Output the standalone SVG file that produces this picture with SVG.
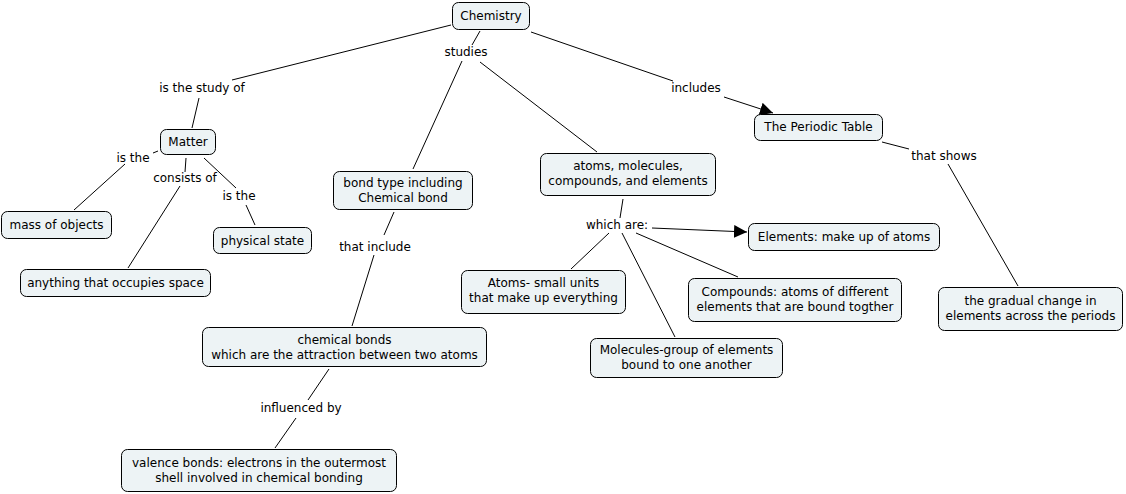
<svg xmlns="http://www.w3.org/2000/svg" width="1126" height="494" viewBox="0 0 1126 494">
<defs>
<style>
.n rect{fill:#edf3f5;stroke:#000;stroke-width:1}
text{font-family:"DejaVu Sans",Verdana,sans-serif;font-size:12px;fill:#000;text-anchor:middle}
.c line{stroke:#000;stroke-width:1}
</style>
<marker id="ah" viewBox="0 0 10 10" refX="10" refY="5" markerWidth="13" markerHeight="13" markerUnits="userSpaceOnUse" orient="auto"><path d="M0,0 L10,5 L0,10 z" fill="#000"/></marker>
</defs>
<rect width="1126" height="494" fill="#fff"/>
<g class="c" id="connectors">
<line x1="480" y1="31" x2="472" y2="45"/>
<line x1="462" y1="61" x2="413" y2="169"/>
<line x1="480" y1="62" x2="597" y2="152"/>
<line x1="451" y1="25" x2="232" y2="80"/>
<line x1="199" y1="98" x2="192" y2="128"/>
<line x1="531" y1="32" x2="673" y2="81"/>
<line x1="724" y1="97" x2="773" y2="113" marker-end="url(#ah)"/>
<line x1="882" y1="142" x2="909" y2="149"/>
<line x1="948" y1="164" x2="1018" y2="286"/>
<line x1="158" y1="151" x2="153" y2="153"/>
<line x1="125" y1="164" x2="74" y2="210"/>
<line x1="186" y1="158" x2="185" y2="172"/>
<line x1="180" y1="186" x2="128" y2="268"/>
<line x1="204" y1="158" x2="236" y2="188"/>
<line x1="246" y1="205" x2="255" y2="225"/>
<line x1="394" y1="212" x2="384" y2="235"/>
<line x1="374" y1="255" x2="352" y2="326"/>
<line x1="329" y1="369" x2="308" y2="400"/>
<line x1="296" y1="418" x2="275" y2="448"/>
<line x1="623" y1="199" x2="620" y2="218"/>
<line x1="652" y1="228" x2="747" y2="232" marker-end="url(#ah)"/>
<line x1="609" y1="233" x2="571" y2="269"/>
<line x1="622" y1="233" x2="675" y2="337"/>
<line x1="636" y1="233" x2="738" y2="277"/>
</g>
<g id="labels">
<text x="466" y="56">studies</text>
<text x="202" y="92">is the study of</text>
<text x="696" y="92">includes</text>
<text x="133" y="162">is the</text>
<text x="185" y="182">consists of</text>
<text x="239" y="200">is the</text>
<text x="375" y="251">that include</text>
<text x="301" y="412">influenced by</text>
<text x="617" y="229">which are:</text>
<text x="944" y="160">that shows</text>
</g>
<g class="n" id="chemistry"><rect x="452.5" y="2.5" width="77" height="27" rx="6"/><text x="491" y="20">Chemistry</text></g>
<g class="n" id="matter"><rect x="160.5" y="129.5" width="55" height="25" rx="6"/><text x="188" y="146">Matter</text></g>
<g class="n" id="mass"><rect x="1.5" y="211.5" width="110" height="27" rx="6"/><text x="56.5" y="229">mass of objects</text></g>
<g class="n" id="physical"><rect x="213.5" y="227.5" width="98" height="26" rx="6"/><text x="262.5" y="245">physical state</text></g>
<g class="n" id="anything"><rect x="20.5" y="269.5" width="190" height="27" rx="6"/><text x="115.5" y="287">anything that occupies space</text></g>
<g class="n" id="bondtype"><rect x="333.5" y="171.5" width="139" height="38" rx="6"/><text x="403" y="187">bond type including</text><text x="403" y="202">Chemical bond</text></g>
<g class="n" id="chembonds"><rect x="202.5" y="327.5" width="284" height="39" rx="6"/><text x="344.5" y="344">chemical bonds</text><text x="344.5" y="359">which are the attraction between two atoms</text></g>
<g class="n" id="valence"><rect x="121.5" y="449.5" width="275" height="42" rx="6"/><text x="259" y="467">valence bonds: electrons in the outermost</text><text x="259" y="482">shell involved in chemical bonding</text></g>
<g class="n" id="atomsmol"><rect x="540.5" y="153.5" width="175" height="42" rx="6"/><text x="628" y="170">atoms, molecules,</text><text x="628" y="185">compounds, and elements</text></g>
<g class="n" id="periodic"><rect x="754.5" y="114.5" width="128" height="26" rx="6"/><text x="818.5" y="131">The Periodic Table</text></g>
<g class="n" id="elements"><rect x="748.5" y="223.5" width="191" height="27" rx="6"/><text x="844" y="241">Elements: make up of atoms</text></g>
<g class="n" id="atoms"><rect x="461.5" y="270.5" width="164" height="43" rx="6"/><text x="543.5" y="287">Atoms- small units</text><text x="543.5" y="302">that make up everything</text></g>
<g class="n" id="compounds"><rect x="688.5" y="278.5" width="213" height="43" rx="6"/><text x="795" y="296">Compounds: atoms of different</text><text x="795" y="311">elements that are bound togther</text></g>
<g class="n" id="molecules"><rect x="590.5" y="338.5" width="192" height="39" rx="6"/><text x="686.5" y="354">Molecules-group of elements</text><text x="686.5" y="369">bound to one another</text></g>
<g class="n" id="gradual"><rect x="938.5" y="287.5" width="184" height="43" rx="6"/><text x="1030.5" y="305">the gradual change in</text><text x="1030.5" y="320">elements across the periods</text></g>
</svg>
